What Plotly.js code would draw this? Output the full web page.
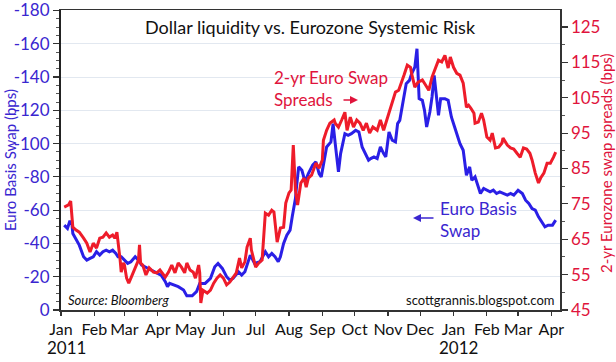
<!DOCTYPE html>
<html>
<head>
<meta charset="utf-8">
<script src="https://cdn.plot.ly/plotly-3.0.1.min.js"></script>
<style>
html,body{margin:0;padding:0;background:#fff;}
#chart{width:616px;height:362px;}
</style>
</head>
<body>
<div id="chart"></div>
<script>
// Euro Basis Swap (bps), left axis
var blueDates = [
'2011-01-04','2011-01-07','2011-01-09','2011-01-11','2011-01-12','2011-01-15','2011-01-18','2011-01-22','2011-01-25','2011-01-28','2011-01-31',
'2011-02-03','2011-02-06','2011-02-09','2011-02-12','2011-02-15','2011-02-18','2011-02-21','2011-02-23','2011-02-26',
'2011-03-01','2011-03-04','2011-03-07','2011-03-11','2011-03-14','2011-03-17','2011-03-20','2011-03-23','2011-03-26','2011-03-29',
'2011-04-01','2011-04-04','2011-04-08','2011-04-10','2011-04-12','2011-04-16','2011-04-20','2011-04-25','2011-04-28',
'2011-05-03','2011-05-07','2011-05-10','2011-05-15','2011-05-20','2011-05-24','2011-05-27','2011-05-31',
'2011-06-04','2011-06-07','2011-06-10','2011-06-15','2011-06-18','2011-06-21','2011-06-26','2011-06-30',
'2011-07-05','2011-07-10','2011-07-13','2011-07-16','2011-07-19','2011-07-22','2011-07-24','2011-07-27','2011-07-30',
'2011-08-02','2011-08-04','2011-08-05','2011-08-07','2011-08-08','2011-08-10','2011-08-13','2011-08-16','2011-08-19','2011-08-23','2011-08-26','2011-08-29','2011-08-31',
'2011-09-02','2011-09-05','2011-09-09','2011-09-11','2011-09-13','2011-09-16','2011-09-18','2011-09-22','2011-09-25','2011-09-28',
'2011-10-02','2011-10-05','2011-10-08','2011-10-11','2011-10-14','2011-10-16','2011-10-19','2011-10-22','2011-10-25','2011-10-28','2011-10-30',
'2011-11-02','2011-11-05','2011-11-08','2011-11-10','2011-11-12','2011-11-15','2011-11-18','2011-11-21','2011-11-23','2011-11-26','2011-11-28','2011-11-30',
'2011-12-03','2011-12-05','2011-12-07','2011-12-10','2011-12-12','2011-12-14','2011-12-16','2011-12-18','2011-12-20','2011-12-24','2011-12-27','2011-12-30',
'2012-01-02','2012-01-04','2012-01-07','2012-01-10','2012-01-12','2012-01-13','2012-01-16','2012-01-18','2012-01-21','2012-01-24','2012-01-26','2012-01-29',
'2012-02-01','2012-02-04','2012-02-07','2012-02-10','2012-02-13','2012-02-16','2012-02-20','2012-02-23','2012-02-26',
'2012-03-01','2012-03-05','2012-03-08','2012-03-11','2012-03-14','2012-03-17','2012-03-20','2012-03-23','2012-03-26','2012-03-29',
'2012-04-02','2012-04-05'];
var blueValues = [
-51,-49,-53,-53,-46,-42,-39,-32,-30,-31,-32,
-35,-33,-35,-36,-35,-36,-34,-32,-32,
-30,-28,-29,-32,-30,-27,-26,-25,-24,-23,
-22,-21,-17,-14,-16,-15,-14,-12,-8.5,
-8.5,-11,-16,-16,-19,-26,-28,-25,
-20,-18,-19,-23,-21,-23,-33,-28,
-29,-35,-32,-34,-32,-29,-32,-40,-45,
-48,-56,-60,-67,-74,-86,-84,-77,-82,-87,-89,-82,-80,
-88,-98,-101,-112,-100,-83,-94,-106,-105,-106,
-108,-107,-98,-94,-90,-91,-92,-91,-98,-94,-92,
-107,-102,-101,-112,-114,-124,-136,-138,-142,-146,-157,-127,
-126,-120,-110,-119,-128,-141,-128,-117,-127,-127,-126,-116,
-110,-106,-100,-96,-86,-81,-86,-78,-80,-74,-70,-73,
-72,-71,-72,-70,-71,-70,-69,-70,-69,
-72,-70,-66,-64,-61,-60,-56,-53,-50,-51,
-51,-54];

// 2-yr Euro swap spreads (bps), right axis
var redDates = [
'2011-01-04','2011-01-08','2011-01-10','2011-01-12','2011-01-15','2011-01-18','2011-01-22','2011-01-25','2011-01-28','2011-01-31',
'2011-02-03','2011-02-06','2011-02-09','2011-02-12','2011-02-15','2011-02-18','2011-02-20','2011-02-22','2011-02-25','2011-02-26','2011-02-28',
'2011-03-01','2011-03-03','2011-03-05','2011-03-07','2011-03-11','2011-03-14','2011-03-15','2011-03-16','2011-03-18','2011-03-21','2011-03-24','2011-03-28','2011-03-31',
'2011-04-03','2011-04-08','2011-04-11','2011-04-14','2011-04-17','2011-04-20','2011-04-23','2011-04-26','2011-04-28',
'2011-05-01','2011-05-04','2011-05-06','2011-05-09','2011-05-10','2011-05-11','2011-05-13','2011-05-17','2011-05-20','2011-05-23','2011-05-26','2011-05-29',
'2011-06-01','2011-06-04','2011-06-07','2011-06-10','2011-06-13','2011-06-16','2011-06-18','2011-06-21','2011-06-23','2011-06-26','2011-06-27',
'2011-07-01','2011-07-04','2011-07-07','2011-07-10','2011-07-13','2011-07-16','2011-07-18','2011-07-21','2011-07-24','2011-07-27','2011-07-29',
'2011-08-01','2011-08-03','2011-08-05','2011-08-07','2011-08-09','2011-08-12','2011-08-15','2011-08-17','2011-08-19','2011-08-22','2011-08-26','2011-08-29',
'2011-09-01','2011-09-02','2011-09-05','2011-09-08','2011-09-12','2011-09-13','2011-09-16','2011-09-19','2011-09-22','2011-09-24','2011-09-27','2011-09-30',
'2011-10-03','2011-10-06','2011-10-09','2011-10-12','2011-10-15','2011-10-18','2011-10-22','2011-10-25','2011-10-28','2011-10-30',
'2011-11-02','2011-11-05','2011-11-08','2011-11-11','2011-11-13','2011-11-16','2011-11-19','2011-11-22','2011-11-23','2011-11-26','2011-11-29',
'2011-12-03','2011-12-06','2011-12-09','2011-12-12','2011-12-15','2011-12-18','2011-12-21','2011-12-24','2011-12-27','2011-12-29',
'2012-01-01','2012-01-04','2012-01-07','2012-01-10','2012-01-13','2012-01-15','2012-01-17','2012-01-20','2012-01-21','2012-01-24','2012-01-27','2012-01-29',
'2012-02-01','2012-02-04','2012-02-06','2012-02-09','2012-02-12','2012-02-15','2012-02-16','2012-02-20','2012-02-23','2012-02-26','2012-02-29',
'2012-03-03','2012-03-06','2012-03-09','2012-03-12','2012-03-14','2012-03-17','2012-03-20','2012-03-22','2012-03-25','2012-03-28','2012-03-31',
'2012-04-03','2012-04-05'];
var redValues = [
74.1,74.7,75.8,68.4,67.6,67.0,65.3,63.9,61.4,63.9,
62.5,65.3,65.6,66.8,65.6,66.2,65.3,67.0,59.1,55.7,58.3,
57.7,54.0,52.6,54.0,57.1,59.1,63.4,58.3,57.7,54.9,56.9,55.7,55.5,
56.3,54.3,55.7,57.7,55.5,58.3,57.1,55.5,58.3,
56.3,55.7,54.0,57.7,55.5,47.0,50.6,49.8,50.6,52.6,54.0,54.9,
54.0,52.1,52.9,54.3,55.5,59.7,56.9,58.6,62.8,65.3,62.0,
57.1,58.3,59.1,72.4,71.8,73.2,72.7,64.2,68.2,68.4,75.2,
78.1,78.9,91.6,78.9,74.7,80.9,82.3,79.7,82.3,83.1,86.5,85.1,
87.4,93.0,95.8,97.8,98.7,97.8,96.7,98.7,100.9,95.8,99.5,96.7,
98.7,97.8,95.8,97.8,95.0,96.7,95.8,98.7,95.8,97.8,
100.9,103.8,106.6,107.1,109.1,111.4,114.2,113.6,111.9,108.0,109.4,
110.0,108.6,107.1,110.8,113.4,115.6,115.1,117.0,113.4,116.5,
113.6,111.9,111.4,109.1,102.3,102.9,102.1,100.6,97.8,98.1,100.6,98.7,
93.9,93.0,95.0,90.8,91.0,92.2,93.6,91.6,90.8,90.5,89.3,
88.2,90.8,90.5,89.3,87.4,83.7,80.9,82.3,83.7,86.5,86.5,
88.2,89.6];

var monthTicks = ['2011-01-01','2011-02-01','2011-03-01','2011-04-01','2011-05-01','2011-06-01','2011-07-01','2011-08-01','2011-09-01','2011-10-01','2011-11-01','2011-12-01','2012-01-01','2012-02-01','2012-03-01','2012-04-01'];
var monthLabels = ['Jan','Feb','Mar','Apr','May','Jun','Jul','Aug','Sep','Oct','Nov','Dec','Jan','Feb','Mar','Apr'];
var yearLabels = ['2011','2012'];
var yearTicks = ['2011-01-01','2012-01-01'];
var leftTicks = [0,-20,-40,-60,-80,-100,-120,-140,-160,-180];
var leftLabels = ['0','-20','-40','-60','-80','-100','-120','-140','-160','-180'];
var rightTicks = [45,55,65,75,85,95,105,115,125];

var BLUE = '#2a1fe6';
var RED = '#ee1c2a';
var BLUE_TXT = '#3a26d0';
var RED_TXT = '#e0143c';
var FONT = 'Lato, "Open Sans", sans-serif';

var traces = [
  {x: blueDates, y: blueValues, type: 'scatter', mode: 'lines', yaxis: 'y',
   line: {color: BLUE, width: 3}, name: 'Euro Basis Swap'},
  {x: redDates, y: redValues, type: 'scatter', mode: 'lines', yaxis: 'y2',
   line: {color: RED, width: 3}, name: '2-yr Euro Swap Spreads'}
];

var annotations = [
  {xref: 'paper', yref: 'paper', x: 0.5, y: 0.943, text: 'Dollar liquidity vs. Eurozone Systemic Risk',
   showarrow: false, xanchor: 'center', yanchor: 'middle', font: {family: FONT, size: 18, color: '#111'}},
  {xref: 'paper', yref: 'paper', x: 0.423, y: 0.738, text: '2-yr Euro Swap<br>Spreads',
   showarrow: false, xanchor: 'left', yanchor: 'middle', align: 'left', font: {family: FONT, size: 17, color: RED_TXT}},
  {xref: 'paper', yref: 'paper', x: (358-61)/499, y: (310-100)/300, ax: -16, ay: 0, text: '',
   showarrow: true, arrowhead: 2, arrowsize: 1, arrowwidth: 1.6, arrowcolor: RED_TXT},
  {xref: 'paper', yref: 'paper', x: 0.7555, y: 0.303, text: 'Euro Basis<br>Swap',
   showarrow: false, xanchor: 'left', yanchor: 'middle', align: 'left', font: {family: FONT, size: 17, color: BLUE_TXT}},
  {xref: 'paper', yref: 'paper', x: (413-61)/499, y: (310-218)/300, ax: 22, ay: 0, text: '',
   showarrow: true, arrowhead: 2, arrowsize: 1, arrowwidth: 1.6, arrowcolor: BLUE_TXT},
  {xref: 'paper', yref: 'paper', x: (66-61)/499, y: (310-300)/300, text: '<i>Source: Bloomberg</i>',
   showarrow: false, xanchor: 'left', yanchor: 'middle', font: {family: FONT, size: 13, color: '#111'}},
  {xref: 'paper', yref: 'paper', x: (557-61)/499, y: (310-300)/300, text: 'scottgrannis.blogspot.com',
   showarrow: false, xanchor: 'right', yanchor: 'middle', font: {family: FONT, size: 13, color: '#111'}},
  {xref: 'paper', yref: 'paper', x: (10-61)/499, y: 0.5, text: 'Euro Basis Swap (bps)', textangle: -90,
   showarrow: false, xanchor: 'center', yanchor: 'middle', font: {family: FONT, size: 15, color: BLUE_TXT}},
  {xref: 'paper', yref: 'paper', x: (606-61)/499, y: 0.49, text: '2-yr Eurozone swap spreads (bps)', textangle: -90,
   showarrow: false, xanchor: 'center', yanchor: 'middle', font: {family: FONT, size: 15, color: RED_TXT}}
];
for (var i = 0; i < yearLabels.length; i++) {
  annotations.push({xref: 'x', yref: 'paper', x: yearTicks[i], y: (310-347)/300, xshift: 5,
    text: yearLabels[i], showarrow: false, xanchor: 'center', yanchor: 'middle',
    font: {family: FONT, size: 17, color: '#111'}});
}

var layout = {
  width: 616, height: 362,
  margin: {l: 61, r: 56, t: 10, b: 52, pad: 0},
  paper_bgcolor: '#fff', plot_bgcolor: '#fff',
  showlegend: false,
  xaxis: {
    type: 'date', range: ['2011-01-01', '2012-04-09'],
    tickmode: 'array', tickvals: monthTicks, ticktext: monthLabels, tickangle: 0,
    ticks: 'outside', ticklen: 4, tickwidth: 1.2, tickcolor: '#333',
    showgrid: false, zeroline: false,
    showline: true, linecolor: '#333', linewidth: 1.5, mirror: true,
    tickfont: {family: FONT, size: 16, color: '#111'}
  },
  yaxis: {
    range: [0, -180.3], autorange: false,
    tickmode: 'array', tickvals: leftTicks, ticktext: leftLabels, ticklabeloverflow: 'allow',
    ticks: 'outside', ticklen: 6, tickwidth: 1.2, tickcolor: '#333',
    minor: {ticks: 'outside', ticklen: 3, dtick: 5, tickcolor: '#555', tickwidth: 1},
    showgrid: true, gridcolor: '#e2e8f0', gridwidth: 1, zeroline: false,
    showline: true, linecolor: '#222', linewidth: 2, mirror: true,
    tickfont: {family: FONT, size: 17, color: BLUE_TXT}
  },
  yaxis2: {
    overlaying: 'y', side: 'right',
    range: [45, 129.8], autorange: false,
    tickmode: 'array', tickvals: rightTicks, ticklabeloverflow: 'allow',
    ticks: 'outside', ticklen: 6, tickwidth: 1.2, tickcolor: '#333',
    minor: {ticks: 'outside', ticklen: 3, dtick: 5, tickcolor: '#555', tickwidth: 1},
    showgrid: false, zeroline: false,
    showline: true, linecolor: '#333', linewidth: 1.5,
    tickfont: {family: FONT, size: 17, color: RED_TXT}
  },
  annotations: annotations
};

Plotly.newPlot('chart', traces, layout, {staticPlot: true, displayModeBar: false});
</script>
</body>
</html>
